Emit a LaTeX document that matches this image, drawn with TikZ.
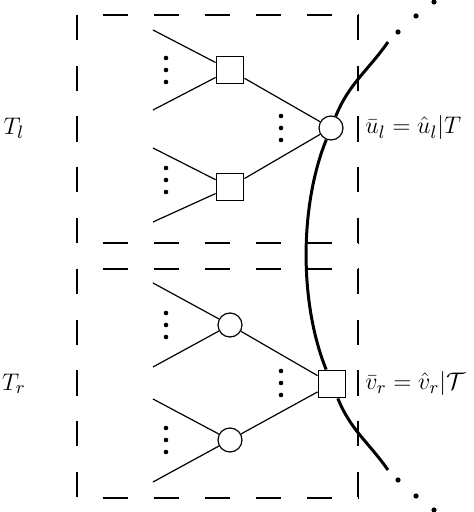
\documentclass[tikz,border=0pt]{standalone}

\begin{document}
\begin{tikzpicture}[x=0.5pt,y=0.5pt,
    sqnode/.style={draw,line width=0.9pt,fill=white,minimum size=13.5pt,inner sep=0pt},
    cirnode/.style={circle,draw,line width=0.6pt,fill=white,minimum size=12pt,inner sep=0pt},
    branch/.style={line width=0.6pt},
    vside/.style={line width=1.25pt,dash pattern=on 12.67pt off 12.67pt},
    hside/.style={line width=1.25pt,dash pattern=on 12.77pt off 12.77pt,dash phase=12.77pt},
    lbl/.style={font=\fontsize{12.8}{15}\selectfont,inner sep=2pt}]
  \useasboundingbox (0,0) rectangle (474,512);

  % dashed boxes
  \foreach \ya/\yb in {497/269, 243/14} {
    \draw[vside] (77,\ya) -- (77,\yb);
    \draw[vside] (358,\ya) -- (358,\yb);
    \draw[hside] (77,\ya) -- (358,\ya);
    \draw[hside] (77,\yb) -- (358,\yb);
  }

  % upper tree
  \node[sqnode] (sqa) at (230,442) {};
  \node[sqnode] (sqb) at (230,325) {};
  \node[cirnode] (ul) at (331,384) {};
  \coordinate (la1) at (153,482);
  \coordinate (la2) at (153,402);
  \coordinate (lb1) at (153,364);
  \coordinate (lb2) at (153,290);
  \draw[branch] (la1) -- (sqa);
  \draw[branch] (la2) -- (sqa);
  \draw[branch] (lb1) -- (sqb);
  \draw[branch] (lb2) -- (sqb);
  \draw[branch] (sqa) -- (ul);
  \draw[branch] (sqb) -- (ul);

  % lower tree
  \node[cirnode] (ca) at (230,187) {};
  \node[cirnode] (cb) at (230,72) {};
  \node[sqnode] (vr) at (332,128) {};
  \coordinate (ma1) at (153,229);
  \coordinate (ma2) at (153,145);
  \coordinate (mb1) at (153,113);
  \coordinate (mb2) at (153,30);
  \draw[branch] (ma1) -- (ca);
  \draw[branch] (ma2) -- (ca);
  \draw[branch] (mb1) -- (cb);
  \draw[branch] (mb2) -- (cb);
  \draw[branch] (ca) -- (vr);
  \draw[branch] (cb) -- (vr);

  % vertical dots
  \foreach \x/\y in {166/442, 166/332, 281/384, 166/187, 166/72, 281/129}
    \foreach \d in {-12,0,12}
      \fill (\x,\y+\d) circle (1.15pt);

  % thick curve
  \coordinate (ctop) at (388,470);
  \coordinate (cbot) at (388,42);
  \draw[line width=1.5pt] (ctop) to[out=-125,in=68] (ul)
    to[out=-112,in=112,looseness=0.8] (vr) to[out=-68,in=125] (cbot);
  \foreach \x/\y in {398/480, 416/496, 434/510, 398/32, 416/16, 434/2}
    \fill (\x,\y) circle (1.3pt);

  % labels
  \node[lbl] (tl) at (14,384) {$T_l$};
  \node[lbl] (tr) at (14,128) {$T_r$};
  \node[lbl,anchor=west] (eul) at (361,384) {$\bar{u}_l = \hat{u}_l|T$};
  \node[lbl,anchor=west] (evr) at (361,128) {$\bar{v}_r = \hat{v}_r|\mathcal{T}$};
\end{tikzpicture}
\end{document}
